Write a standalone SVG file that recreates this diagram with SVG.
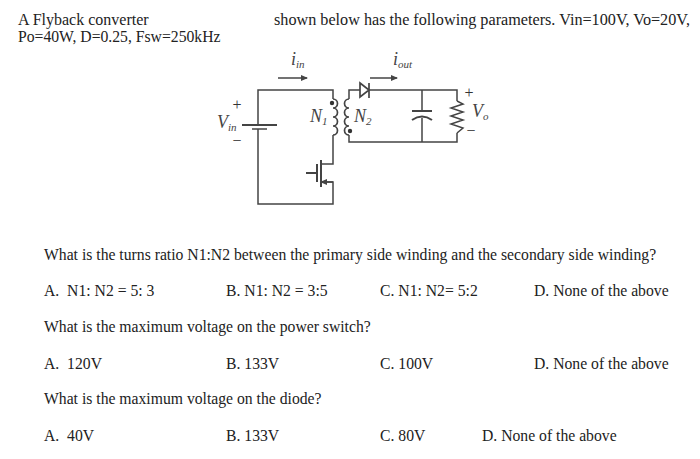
<svg xmlns="http://www.w3.org/2000/svg" width="700" height="459" viewBox="0 0 700 459">
<style>
text{font-family:"Liberation Serif","Times New Roman",serif;font-size:15.7px;fill:#222}
.h{font-size:16.2px}
.c{font-size:16px;fill:#333}
.i{font-style:italic;font-size:18px;fill:#444}
.s{font-size:11px}
.w{fill:none;stroke:#444;stroke-width:1.5}
.l{fill:none;stroke:#444;stroke-width:1.7}
.t{fill:none;stroke:#444;stroke-width:2}
.f{fill:#333;stroke:none}
</style>
<defs><marker id="a" markerWidth="7" markerHeight="6" refX="6" refY="3" orient="auto" markerUnits="userSpaceOnUse"><path d="M0 0L7 3L0 6Z" fill="#444"/></marker></defs>
<rect width="700" height="459" fill="#fff"/>
<g id="question-text">
<text x="18" y="25" style="font-size:16px">A Flyback converter</text>
<text class="h" x="274" y="25">shown below has the following parameters. Vin=100V, Vo=20V,</text>
<text x="18" y="42">Po=40W, D=0.25, Fsw=250kHz</text>
<text x="44" y="260">What is the turns ratio N1:N2 between the primary side winding and the secondary side winding?</text>
<text x="44" y="296">A.&#160; N1: N2 = 5: 3</text>
<text x="226" y="296">B. N1: N2 = 3:5</text>
<text x="380" y="296">C. N1: N2= 5:2</text>
<text x="534" y="296">D. None of the above</text>
<text x="44" y="332">What is the maximum voltage on the power switch?</text>
<text x="44" y="369">A.&#160; 120V</text>
<text x="226" y="369">B. 133V</text>
<text x="380" y="369">C. 100V</text>
<text x="534" y="369">D. None of the above</text>
<text x="44" y="404">What is the maximum voltage on the diode?</text>
<text x="44" y="441">A.&#160; 40V</text>
<text x="226" y="441">B. 133V</text>
<text x="380" y="441">C. 80V</text>
<text x="482" y="441">D. None of the above</text>
</g>
<g id="connectors">
<path class="w" d="M258 125V90H333V99M258 129V204H333V182H322M333 135V164H321"/>
<path class="w" d="M349 99V90H360M369 90H457V101M349 135V142H457V133M422 90V111M422 118V142"/>
<path class="w" d="M278 78H307" marker-end="url(#a)"/>
<path class="w" d="M370 78H397" marker-end="url(#a)"/>
</g>
<g id="battery"><path class="t" d="M242 125H277"/><path class="w" d="M252 129H267"/>
<text class="c" x="237" y="110" text-anchor="middle">+</text><text class="i" x="217" y="128">V<tspan class="s" dy="3">in</tspan></text><text class="c" x="237" y="146" text-anchor="middle">−</text></g>
<g id="primary"><path class="l" d="M333 99a4.500 4.500 0 0 1 0 9a4.500 4.500 0 0 1 0 9a4.500 4.500 0 0 1 0 9a4.500 4.500 0 0 1 0 9"/><circle class="f" cx="332" cy="103" r="2.200"/>
<text class="i" x="310" y="122">N<tspan class="s" dy="3">1</tspan></text></g>
<g id="secondary"><path class="l" d="M349 99a4.500 4.500 0 0 0 0 9a4.500 4.500 0 0 0 0 9a4.500 4.500 0 0 0 0 9a4.500 4.500 0 0 0 0 9"/><circle class="f" cx="350" cy="131" r="2.200"/>
<text class="i" x="354" y="122">N<tspan class="s" dy="3">2</tspan></text></g>
<g id="diode"><path class="l" d="M360 83L369 90L360 97ZM369 83V98"/></g>
<g id="capacitor"><path class="t" d="M412 111H432"/><path class="t" d="M412 120Q422 113 432 120"/></g>
<g id="resistor"><path class="w" d="M457 101L463 104L451 108L463 112L451 116L463 120L451 124L463 128L457 133"/>
<text class="c" x="469" y="98" text-anchor="middle">+</text><text class="i" x="472" y="117">V<tspan class="s" dy="3">o</tspan></text><text class="c" x="471" y="136" text-anchor="middle">−</text></g>
<g id="switch"><path class="t" d="M306 173H316M317 164V182M321 160V187"/><path class="w" d="M333 182H321" marker-end="url(#a)"/></g>
<g id="current-labels"><text class="i" x="291" y="65">i<tspan class="s" dy="3">in</tspan></text><text class="i" x="393" y="65">i<tspan class="s" dy="3">out</tspan></text></g>
</svg>
